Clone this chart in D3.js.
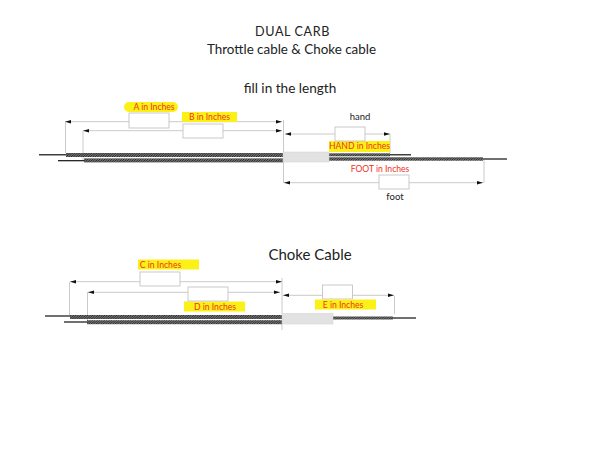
<!DOCTYPE html>
<html>
<head>
<meta charset="utf-8">
<title>Dual carb cables</title>
<script src="https://cdn.jsdelivr.net/npm/d3@7"></script>
<style>
  html, body { margin: 0; padding: 0; background: #fff; }
  svg { display: block; }
  text { font-family: Lato, sans-serif; }
</style>
</head>
<body>
<div id="chart"></div>
<script>
// values, in diagram units
var dimNames = ['A', 'B', 'hand', 'foot', 'C', 'D', 'E']
var dimFrom = [65, 83, 285, 284, 70, 88, 283]
var dimTo = [282, 282, 390, 483, 282, 280, 394]
var dimLevel = [121.7, 130.7, 134, 182.7, 281.7, 292.3, 295.3]
var boxFrom = [129, 183, 335, 379, 140, 188, 322.5]
var boxTo = [169, 223, 365, 409, 180, 228, 352.5]
var boxTop = [113, 124, 127, 175, 272, 287, 285]
var boxBottom = [128, 138, 141, 189, 286, 301, 299]

// extension lines: x, from, to
var extX = [65.5, 83, 283.5, 283.5, 390, 484, 69.5, 87.5, 282, 282, 394.5]
var extFrom = [122, 131, 120, 162, 134, 160, 282, 292, 278, 324, 296]
var extTo = [153, 160, 152, 183, 153, 183, 315, 320, 313, 330, 314]

// cables: bare wire and braided part
var wireFrom = [39, 58, 390, 483, 45, 64, 393]
var wireTo = [66, 84, 411, 507, 70, 87, 416]
var wireLevel = [154.8, 160.7, 154.8, 159, 316, 322, 318]
var braidFrom = [66, 84, 329, 329, 70, 87, 333]
var braidTo = [283, 283, 390, 483, 282, 282, 393]
var braidLevel = [155, 160.4, 154.8, 159, 317, 322.2, 318]
var braidThick = [4, 4, 3, 3.4, 4, 4, 3]

var sleeveFrom = [283, 282]
var sleeveTo = [329, 333]
var sleeveTop = [152, 313.5]
var sleeveBottom = [162, 324]

var titles = ['Throttle cable & Choke cable', 'fill in the length', 'Choke Cable', 'hand', 'foot']
var titleX = [291.5, 290, 310, 360, 395]
var titleY = [54, 93, 260, 120, 200]
var titleSize = [13.4, 13.6, 15, 9.5, 9.5]

var notes = ['A in Inches', 'B in Inches', 'HAND in Inches', 'FOOT in Inches', 'C in Inches', 'D in Inches', 'E in Inches']
var noteX = [154, 209.5, 359.5, 380, 160.5, 215, 343]
var noteY = [106.8, 116.8, 146.4, 169.4, 264.6, 306.6, 304.6]
var markFrom = [124, 182, 329, 0, 138, 184, 315]
var markTo = [178, 237, 390, 0, 199, 245, 376]
var markTop = [102, 112, 141, 0, 259.5, 301.5, 299.5]
var markBottom = [112, 122, 152, 0, 269.5, 311.5, 309.5]

var width = 600
var height = 464
var x = d3.scaleLinear().domain([0, 600]).range([0, width])
var y = d3.scaleLinear().domain([0, 464]).range([0, height])

var svg = d3.select('#chart').append('svg')
  .attr('width', width)
  .attr('height', height)

// braid hatch
var hatch = svg.append('defs').append('pattern')
  .attr('id', 'braid')
  .attr('patternUnits', 'userSpaceOnUse')
  .attr('width', 2.4)
  .attr('height', 2.4)
hatch.append('rect').attr('width', 2.4).attr('height', 2.4).attr('fill', '#a0a0a0')
hatch.append('path').attr('d', 'M-1.2,1.2L1.2,-1.2M0,2.4L2.4,0M1.2,3.6L3.6,1.2').attr('stroke', '#111').attr('stroke-width', 0.95)

// extension lines
svg.selectAll('.ext').data(extX).enter().append('line')
  .attr('class', 'ext')
  .attr('x1', d => x(d))
  .attr('x2', d => x(d))
  .attr('y1', (d, i) => y(extFrom[i]))
  .attr('y2', (d, i) => y(extTo[i]))
  .attr('stroke', '#c4c4c4')
  .attr('stroke-width', 0.9)

// dimension lines
svg.selectAll('.dim').data(dimNames).enter().append('line')
  .attr('class', 'dim')
  .attr('x1', (d, i) => x(dimFrom[i]))
  .attr('x2', (d, i) => x(dimTo[i]))
  .attr('y1', (d, i) => y(dimLevel[i]))
  .attr('y2', (d, i) => y(dimLevel[i]))
  .attr('stroke', '#c4c4c4')
  .attr('stroke-width', 0.9)

// arrow heads, left end then right end
function arrow(px, py, dir) {
  return 'M' + px + ',' + py + 'L' + (px + dir * 6) + ',' + (py - 1.7) + 'L' + (px + dir * 6) + ',' + (py + 1.7) + 'Z'
}
svg.selectAll('.head-l').data(dimNames).enter().append('path')
  .attr('class', 'head-l')
  .attr('d', (d, i) => arrow(x(dimFrom[i]), y(dimLevel[i]), 1))
  .attr('fill', '#111')
svg.selectAll('.head-r').data(dimNames).enter().append('path')
  .attr('class', 'head-r')
  .attr('d', (d, i) => arrow(x(dimTo[i]), y(dimLevel[i]), -1))
  .attr('fill', '#111')

// highlight behind the notes
svg.selectAll('.mark').data(notes).enter().append('rect')
  .attr('class', 'mark')
  .attr('x', (d, i) => x(markFrom[i]))
  .attr('y', (d, i) => y(markTop[i]))
  .attr('width', (d, i) => x(markTo[i]) - x(markFrom[i]))
  .attr('height', (d, i) => y(markBottom[i]) - y(markTop[i]))
  .attr('rx', (d, i) => i === 0 ? 5 : 0)
  .attr('fill', '#fcf116')

// the empty boxes
svg.selectAll('.box').data(dimNames).enter().append('rect')
  .attr('class', 'box')
  .attr('x', (d, i) => x(boxFrom[i]))
  .attr('y', (d, i) => y(boxTop[i]))
  .attr('width', (d, i) => x(boxTo[i]) - x(boxFrom[i]))
  .attr('height', (d, i) => y(boxBottom[i]) - y(boxTop[i]))
  .attr('fill', '#fff')
  .attr('stroke', '#c4c4c4')
  .attr('stroke-width', 0.9)

// the E box sits under its highlight
svg.selectAll('.mark').filter((d, i) => i === 6).raise()

// cables
svg.selectAll('.wire').data(wireFrom).enter().append('line')
  .attr('class', 'wire')
  .attr('x1', d => x(d))
  .attr('x2', (d, i) => x(wireTo[i]))
  .attr('y1', (d, i) => y(wireLevel[i]))
  .attr('y2', (d, i) => y(wireLevel[i]))
  .attr('stroke', '#111')
  .attr('stroke-width', 1.2)

svg.selectAll('.braid').data(braidFrom).enter().append('rect')
  .attr('class', 'braid')
  .attr('x', d => x(d))
  .attr('y', (d, i) => y(braidLevel[i] - braidThick[i] / 2))
  .attr('width', (d, i) => x(braidTo[i]) - x(d))
  .attr('height', (d, i) => braidThick[i])
  .attr('fill', 'url(#braid)')

svg.selectAll('.sleeve').data(sleeveFrom).enter().append('rect')
  .attr('class', 'sleeve')
  .attr('x', d => x(d))
  .attr('y', (d, i) => y(sleeveTop[i]))
  .attr('width', (d, i) => x(sleeveTo[i]) - x(d))
  .attr('height', (d, i) => y(sleeveBottom[i]) - y(sleeveTop[i]))
  .attr('fill', '#e2e2e2')
  .attr('stroke', '#d0d0d0')
  .attr('stroke-width', 0.5)

// headline has its own odd letter spacing
svg.append('text')
  .attr('x', x(292.5))
  .attr('y', y(35.5))
  .attr('text-anchor', 'middle')
  .attr('font-size', 12.6)
  .attr('letter-spacing', 0.6)
  .attr('fill', '#222')
  .text('DUAL CARB')

svg.selectAll('.title').data(titles).enter().append('text')
  .attr('class', 'title')
  .attr('x', (d, i) => x(titleX[i]))
  .attr('y', (d, i) => y(titleY[i]))
  .attr('text-anchor', 'middle')
  .attr('font-size', (d, i) => titleSize[i])
  .attr('fill', '#222')
  .text(d => d)

svg.selectAll('.note').data(notes).enter().append('text')
  .attr('class', 'note')
  .attr('x', (d, i) => x(noteX[i]))
  .attr('y', (d, i) => y(noteY[i]))
  .attr('dy', '.35em')
  .attr('text-anchor', 'middle')
  .attr('font-size', 8.6)
  .attr('fill', '#ee3124')
  .text(d => d)
</script>
</body>
</html>
